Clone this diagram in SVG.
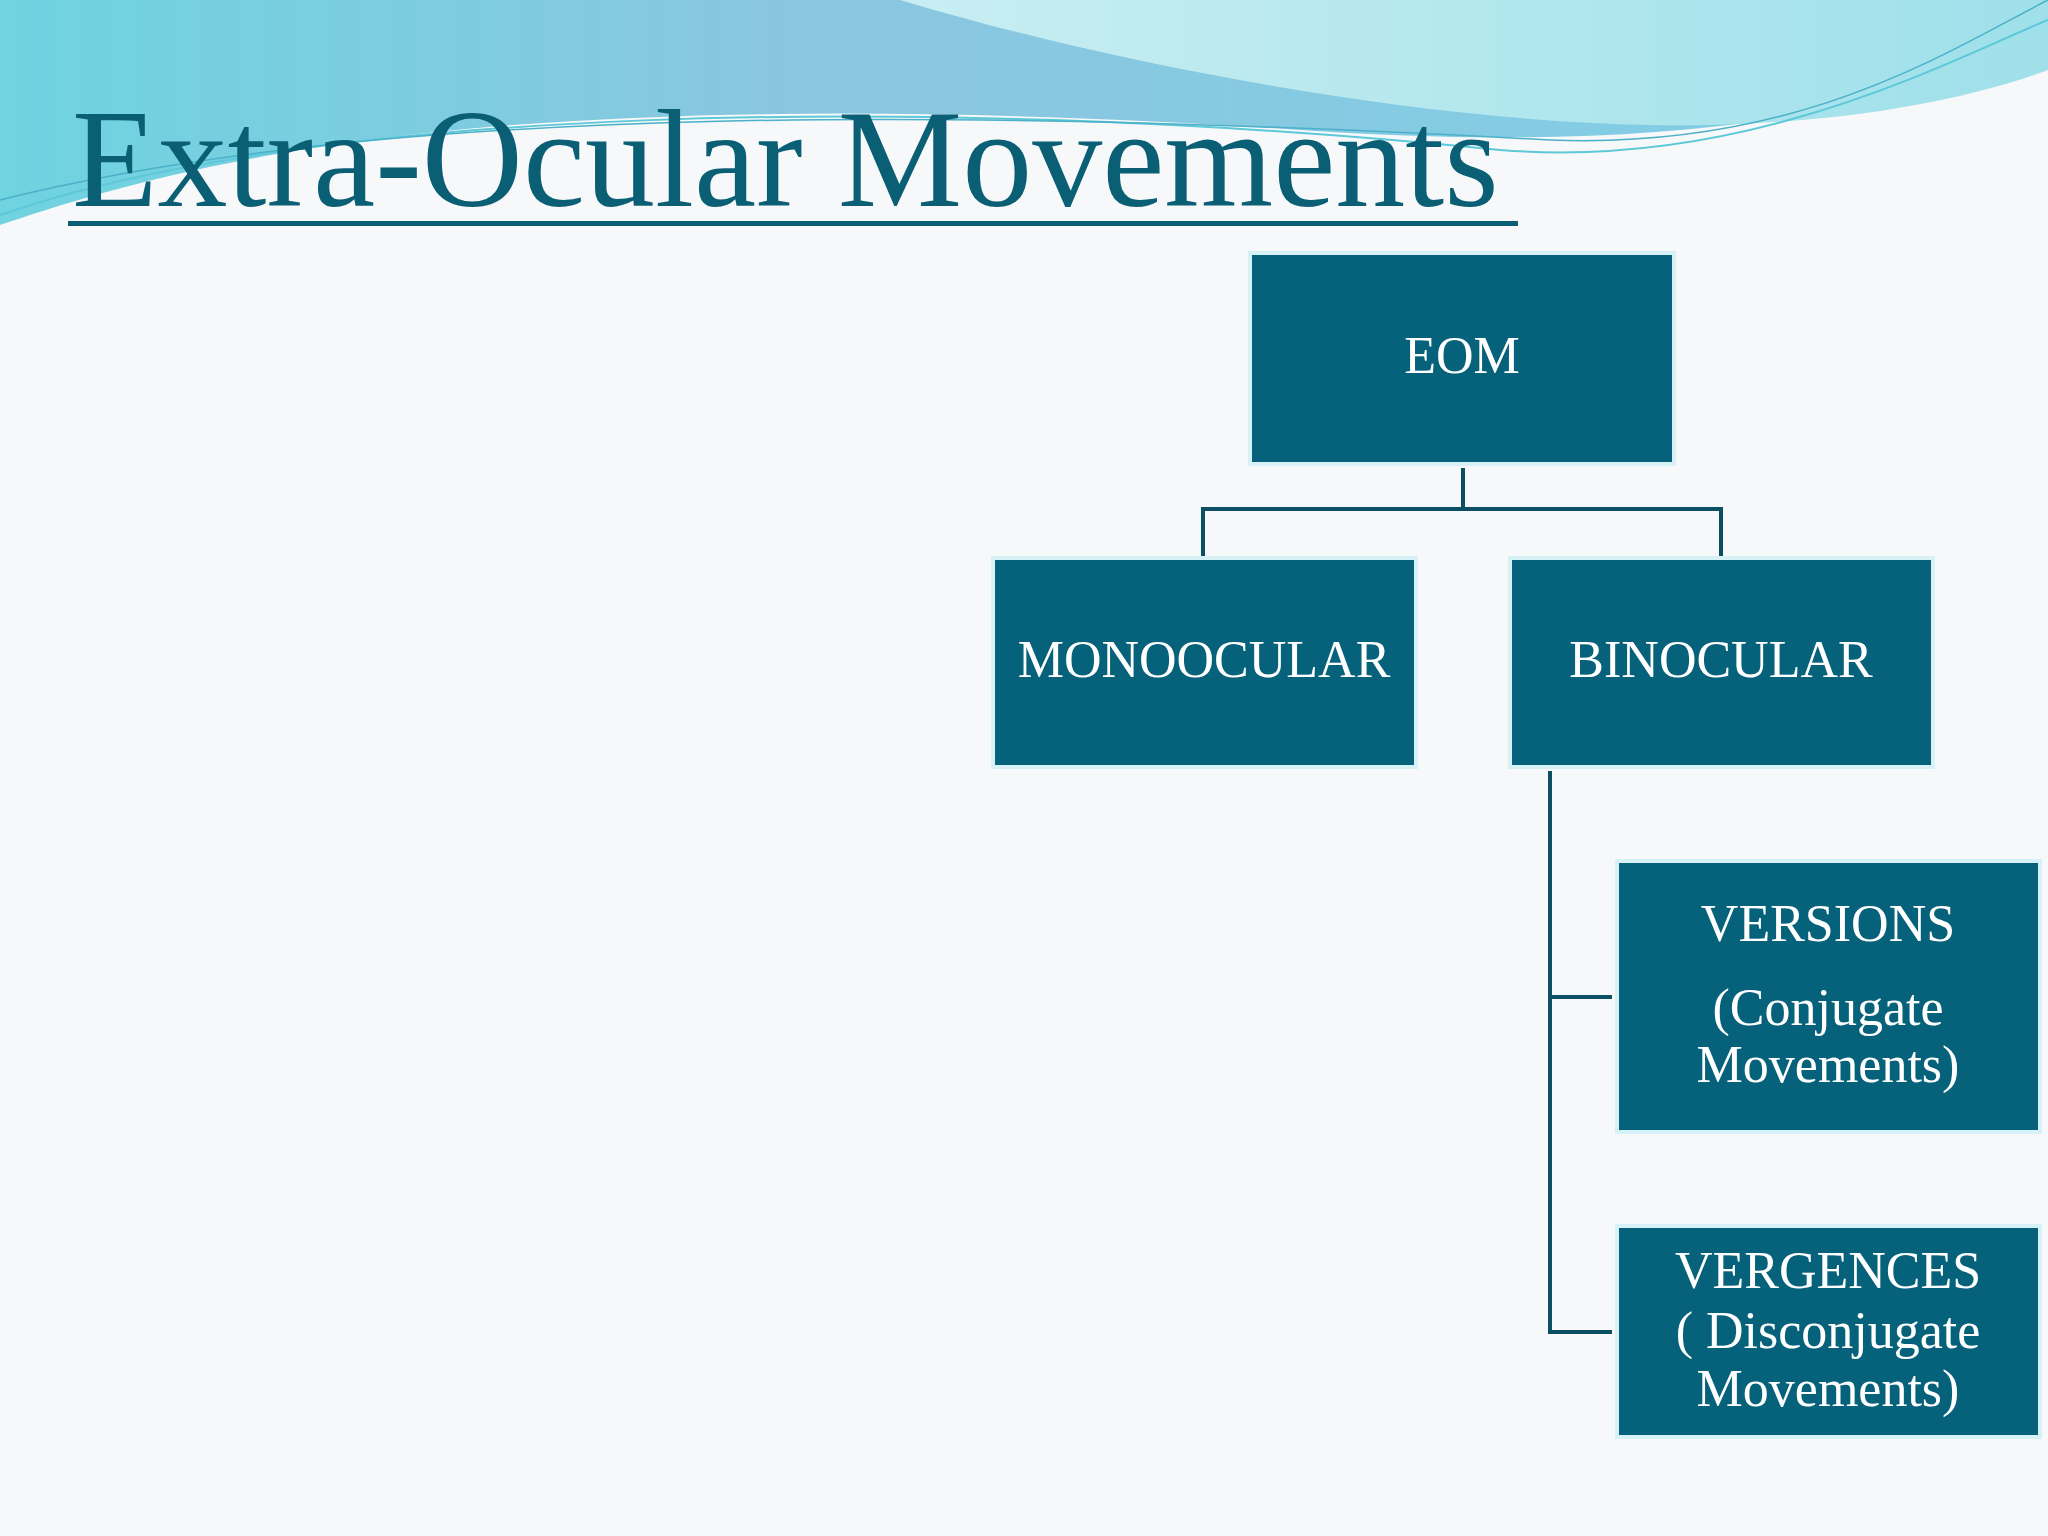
<svg xmlns="http://www.w3.org/2000/svg" width="2048" height="1536" viewBox="0 0 2048 1536">
<defs>
<linearGradient id="wave" x1="0" y1="0" x2="1" y2="0">
<stop offset="0" stop-color="#6fd3e0"/><stop offset="0.4" stop-color="#8ac6df"/><stop offset="1" stop-color="#7fd0e6"/>
</linearGradient>
<linearGradient id="wave2" x1="0" y1="0" x2="1" y2="0">
<stop offset="0" stop-color="#c8eef2"/><stop offset="1" stop-color="#9fe0ea"/>
</linearGradient>
<style>
.box{fill:#06627a;stroke:#d6f2f6;stroke-width:4}
.t{font-family:"Liberation Serif",serif;font-size:52px;fill:#ffffff;text-anchor:middle}
.c{fill:none;stroke:#0b4f62;stroke-width:4}
</style>
</defs>
<rect width="2048" height="1536" fill="#f7f8fa"/>
<g id="background">
<path d="M0,0 H2048 V60 C1800,130 1600,150 1300,130 C1000,110 600,100 300,150 C150,175 60,205 0,225 Z" fill="url(#wave)"/>
<path d="M900,0 C1100,60 1400,120 1650,125 C1850,128 1980,95 2048,70 V0 Z" fill="url(#wave2)"/>
<path d="M0,215 C300,110 900,90 1500,150 C1750,170 1950,60 2048,20" fill="none" stroke="#5cc8d8" stroke-width="2"/>
<path d="M0,200 C400,100 1000,110 1550,140 C1800,150 1950,50 2048,0" fill="none" stroke="#4bb0c8" stroke-width="1.5"/>
</g>
<g id="title">
<text x="72" y="206" font-family="'Liberation Serif',serif" font-size="140" fill="#0b5f75">Extra-Ocular Movements</text>
<rect x="68" y="221" width="1450" height="5" fill="#0b5f75"/>
</g>
<g id="connectors">
<path class="c" d="M1463,468 V509 M1203,558 V509 H1721 V558"/>
<path class="c" d="M1550,771 V1332 H1612 M1550,997 H1612"/>
</g>
<g id="eom"><rect class="box" x="1250" y="253" width="424" height="211"/><text class="t" x="1462" y="373">EOM</text></g>
<g id="mono"><rect class="box" x="993" y="558" width="423" height="209"/><text class="t" x="1204" y="677">MONOOCULAR</text></g>
<g id="bino"><rect class="box" x="1510" y="558" width="423" height="209"/><text class="t" x="1721" y="677">BINOCULAR</text></g>
<g id="versions"><rect class="box" x="1617" y="861" width="423" height="271"/>
<text class="t" x="1828" y="941">VERSIONS</text><text class="t" x="1828" y="1025">(Conjugate</text><text class="t" x="1828" y="1082">Movements)</text></g>
<g id="vergences"><rect class="box" x="1617" y="1226" width="423" height="211"/>
<text class="t" x="1828" y="1288">VERGENCES</text><text class="t" x="1828" y="1348">( Disconjugate</text><text class="t" x="1828" y="1406">Movements)</text></g>
</svg>
